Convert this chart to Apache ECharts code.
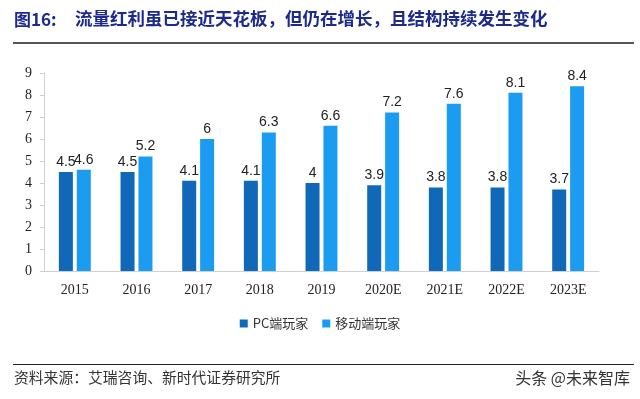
<!DOCTYPE html>
<html>
<head>
<meta charset="utf-8">
<script src="https://cdn.jsdelivr.net/npm/echarts@6/dist/echarts.min.js"></script>
<style>
	html, body { margin: 0; padding: 0; background: #fff; }
	#chart { width: 640px; height: 399px; }
</style>
</head>
<body>
<div id="chart"></div>
<script>
	// 年份
	var years = ['2015', '2016', '2017', '2018', '2019', '2020E', '2021E', '2022E', '2023E'];
	// PC端玩家
	var pcPlayers = [4.5, 4.5, 4.1, 4.1, 4, 3.9, 3.8, 3.8, 3.7];
	// 移动端玩家
	var mobilePlayers = [4.6, 5.2, 6, 6.3, 6.6, 7.2, 7.6, 8.1, 8.4];
	var seriesNames = ['PC端玩家', '移动端玩家'];

	var chart = echarts.init(document.getElementById('chart'));
	var labelStyle = {
		show: true,
		position: 'top',
		distance: 3,
		color: '#222',
		fontSize: 14,
		fontFamily: 'Liberation Sans, Arial, sans-serif'
	};
	chart.setOption({
		animation: false,
		graphic: [
			{
				type: 'text', left: 14, top: 11,
				style: { text: '图16:', fontSize: 17, fontWeight: 'bold', fill: '#1c2a8c', fontFamily: 'Noto Sans CJK SC' }
			},
			{
				type: 'text', left: 75, top: 10,
				style: { text: '流量红利虽已接近天花板，但仍在增长，且结构持续发生变化', fontSize: 17.5, fontWeight: 'bold', fill: '#1c2a8c', fontFamily: 'Noto Sans CJK SC' }
			},
			{
				type: 'rect', shape: { x: 13, y: 42, width: 621, height: 2 },
				style: { fill: '#555' }
			},
			{
				type: 'rect', shape: { x: 13, y: 364, width: 621, height: 1 },
				style: { fill: '#222' }
			},
			{
				type: 'text', left: 14, top: 370,
				style: { text: '资料来源：艾瑞咨询、新时代证券研究所', fontSize: 14.8, fill: '#333', fontFamily: 'Noto Sans CJK SC' }
			},
			{
				type: 'text', right: 10, top: 370,
				style: { text: '头条 @未来智库', fontSize: 16, fill: '#333', fontFamily: 'Noto Sans CJK SC' }
			}
		],
		legend: {
			data: seriesNames,
			top: 312,
			left: 'center',
			itemWidth: 8,
			itemHeight: 8,
			itemGap: 14,
			icon: 'rect',
			textStyle: { fontSize: 13, color: '#333', fontFamily: 'Noto Sans CJK SC' }
		},
		grid: {
			top: 73,
			bottom: 128,
			left: 44,
			right: 41
		},
		xAxis: {
			type: 'category',
			data: years,
			axisLine: { lineStyle: { color: '#d0d0d0' } },
			axisTick: { show: false },
			axisLabel: { color: '#222', fontSize: 14, margin: 12, fontFamily: 'Liberation Serif, Times New Roman, serif' }
		},
		yAxis: {
			type: 'value',
			min: 0,
			max: 9,
			interval: 1,
			splitLine: { show: false },
			axisLine: { show: true, lineStyle: { color: '#d0d0d0' } },
			axisTick: { show: true, length: 4, lineStyle: { color: '#d0d0d0' } },
			axisLabel: { color: '#222', fontSize: 14, margin: 12, fontFamily: 'Liberation Serif, Times New Roman, serif' }
		},
		series: [
			{
				name: seriesNames[0],
				type: 'bar',
				data: pcPlayers,
				barWidth: 14,
				barGap: '28%',
				itemStyle: { color: '#0f69b8' },
				label: labelStyle
			},
			{
				name: seriesNames[1],
				type: 'bar',
				data: mobilePlayers,
				barWidth: 14,
				itemStyle: { color: '#1c9cf0' },
				label: labelStyle
			}
		]
	});
</script>
</body>
</html>
